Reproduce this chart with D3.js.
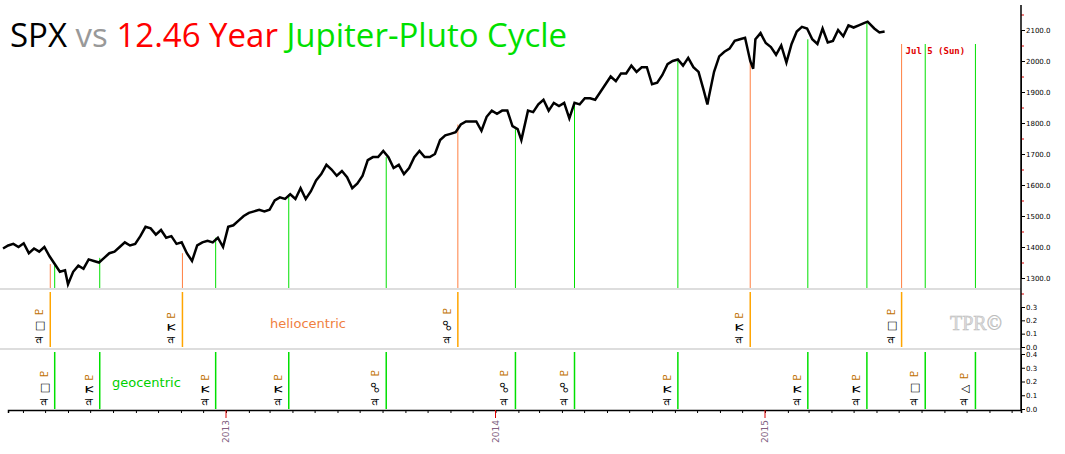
<!DOCTYPE html>
<html><head><meta charset="utf-8">
<script src="https://cdn.jsdelivr.net/npm/d3@7"></script>
<style>body{margin:0;background:#fff}</style>
</head><body>
<svg id="svg" width="1065" height="454"></svg>
<script>
// SPX closes (weekly-ish estimate)
var priceDates = ["2012-03-05","2012-03-12","2012-03-19","2012-03-26","2012-04-02","2012-04-09","2012-04-16","2012-04-23","2012-04-30","2012-05-07","2012-05-14","2012-05-21","2012-05-28","2012-06-01","2012-06-08","2012-06-15","2012-06-22","2012-06-29","2012-07-06","2012-07-13","2012-07-20","2012-07-27","2012-08-03","2012-08-10","2012-08-17","2012-08-24","2012-08-31","2012-09-07","2012-09-14","2012-09-21","2012-09-28","2012-10-05","2012-10-12","2012-10-19","2012-10-26","2012-11-02","2012-11-09","2012-11-16","2012-11-23","2012-11-30","2012-12-07","2012-12-14","2012-12-21","2012-12-28",
"2013-01-04","2013-01-11","2013-01-18","2013-01-25","2013-02-01","2013-02-08","2013-02-15","2013-02-22","2013-03-01","2013-03-08","2013-03-15","2013-03-22","2013-03-29","2013-04-05","2013-04-12","2013-04-19","2013-04-26","2013-05-03","2013-05-10","2013-05-17","2013-05-24","2013-05-31","2013-06-07","2013-06-14","2013-06-21","2013-06-28","2013-07-05","2013-07-12","2013-07-19","2013-07-26","2013-08-02","2013-08-09","2013-08-16","2013-08-23","2013-08-30","2013-09-06","2013-09-13","2013-09-20","2013-09-27","2013-10-04","2013-10-11","2013-10-18","2013-10-25","2013-11-01","2013-11-08","2013-11-15","2013-11-22","2013-11-29","2013-12-06","2013-12-13","2013-12-20","2013-12-27",
"2014-01-03","2014-01-10","2014-01-17","2014-01-24","2014-01-31","2014-02-05","2014-02-14","2014-02-21","2014-02-28","2014-03-07","2014-03-14","2014-03-21","2014-03-28","2014-04-04","2014-04-11","2014-04-18","2014-04-25","2014-05-02","2014-05-09","2014-05-16","2014-05-23","2014-05-30","2014-06-06","2014-06-13","2014-06-20","2014-06-27","2014-07-04","2014-07-11","2014-07-18","2014-07-25","2014-08-01","2014-08-08","2014-08-15","2014-08-22","2014-08-29","2014-09-05","2014-09-12","2014-09-19","2014-09-26","2014-10-03","2014-10-10","2014-10-15","2014-10-17","2014-10-24","2014-10-31","2014-11-07","2014-11-14","2014-11-21","2014-11-28","2014-12-05","2014-12-12","2014-12-16","2014-12-19","2014-12-26",
"2015-01-02","2015-01-09","2015-01-16","2015-01-23","2015-01-30","2015-02-06","2015-02-13","2015-02-20","2015-02-27","2015-03-06","2015-03-13","2015-03-20","2015-03-27","2015-04-03","2015-04-10","2015-04-17","2015-04-24","2015-05-01","2015-05-08","2015-05-15","2015-05-20","2015-05-29","2015-06-05","2015-06-12"];
var priceValues = [1395,1405,1410,1400,1412,1380,1395,1385,1400,1370,1345,1320,1325,1280,1320,1340,1330,1360,1355,1350,1365,1380,1385,1400,1415,1405,1410,1435,1465,1460,1440,1455,1430,1435,1410,1415,1380,1355,1405,1415,1420,1415,1430,1400,
1465,1470,1485,1500,1510,1515,1520,1515,1520,1550,1560,1555,1570,1555,1590,1555,1580,1615,1635,1665,1650,1630,1645,1625,1590,1605,1630,1680,1690,1690,1710,1690,1655,1665,1635,1655,1690,1710,1690,1690,1700,1745,1760,1765,1770,1795,1805,1805,1805,1775,1820,1840,
1830,1840,1840,1790,1780,1745,1840,1835,1860,1875,1840,1865,1855,1865,1815,1865,1860,1880,1880,1875,1900,1925,1950,1935,1960,1960,1985,1965,1980,1980,1925,1930,1955,1990,2000,2005,1985,2010,1980,1965,1905,1860,1885,1965,2015,2030,2040,2065,2070,2075,2000,1975,2070,2090,
2058,2045,2020,2050,1995,2055,2095,2110,2105,2070,2055,2105,2060,2065,2100,2080,2115,2108,2115,2122,2127,2105,2092,2095];

// Jupiter-Pluto aspects
var helioDates = ["2012-05-08","2012-11-03","2013-11-11","2014-12-12","2015-07-05"];
var helioAspects = ["□","⚻","☍","⚻","□"];
var geoDates = ["2012-05-14","2012-07-14","2012-12-18","2013-03-27","2013-08-06","2014-01-28","2014-04-18","2014-09-05","2015-02-28","2015-05-19","2015-08-06","2015-10-13"];
var geoAspects = ["□","⚻","⚻","⚻","☍","☍","☍","⚻","⚻","⚻","□","△"];

var priceTicks = [1300,1400,1500,1600,1700,1800,1900,2000,2100];
var subTicksHelio = [0.0,0.1,0.2,0.3];
var subTicksGeo = [0.0,0.1,0.2,0.3,0.4];

var parse = d3.timeParse("%Y-%m-%d");
var prices = priceDates.map(function(d, i) { return {date: parse(d), value: priceValues[i]} });

var svg = d3.select("#svg");
var left = 8, right = 1021;
var x = d3.scaleTime()
    .domain([parse("2013-01-01"), parse("2015-01-01")])
    .range([226, 765]);
var y = d3.scaleLinear().domain([1300, 2100]).range([278, 30]);
var mainBottom = 288;
var yH = d3.scaleLinear().domain([0, 0.3]).range([347, 307]);
var yG = d3.scaleLinear().domain([0, 0.4]).range([409, 354]);

var orangeMain = "#ff7f40", green = "#00e000", helioOrange = "#ffa500";
var bisect = d3.bisector(function(d) { return d.date }).left;
var lastDate = prices[prices.length - 1].date;

function topFor(date) {
    if (date > lastDate) return 44;
    var i = Math.min(bisect(prices, date), prices.length - 1);
    return y(prices[i].value);
}

// panel separators
svg.append("line").attr("x1", 0).attr("x2", right).attr("y1", 289).attr("y2", 289).attr("stroke", "#bbb")
svg.append("line").attr("x1", 0).attr("x2", right).attr("y1", 349).attr("y2", 349).attr("stroke", "#bbb")

// cycle lines in main panel
helioDates.forEach(function(d) {
    var t = parse(d);
    svg.append("line").attr("x1", x(t)).attr("x2", x(t)).attr("y1", mainBottom).attr("y2", topFor(t))
        .attr("stroke", orangeMain).attr("stroke-width", 1)
})
geoDates.forEach(function(d) {
    var t = parse(d);
    svg.append("line").attr("x1", x(t)).attr("x2", x(t)).attr("y1", mainBottom).attr("y2", topFor(t))
        .attr("stroke", green).attr("stroke-width", 1)
})

// price line
svg.append("path").datum(prices)
    .attr("d", d3.line().x(function(d) { return x(d.date) }).y(function(d) { return y(d.value) }))
    .attr("fill", "none").attr("stroke", "#000").attr("stroke-width", 2.5)

svg.append("text").attr("x", x(parse("2015-07-05")) + 4).attr("y", 54)
    .attr("fill", "#e00000").attr("font-family", "DejaVu Sans Mono").attr("font-size", 9).attr("font-weight", "bold")
    .text("Jul 5 (Sun)")

// aspect panels
function drawPanel(dates, aspects, y0, y1, col, width) {
    dates.forEach(function(d, i) {
        var px = x(parse(d));
        svg.append("line").attr("x1", px).attr("x2", px).attr("y1", y0).attr("y2", y1)
            .attr("stroke", col).attr("stroke-width", width)
        var g = svg.append("text")
            .attr("transform", "translate(" + (px - 7) + "," + (y1 - 2) + ") rotate(-90)")
            .attr("font-family", "DejaVu Sans").attr("font-size", 11).attr("font-weight", "bold").attr("fill", "#000")
        g.append("tspan").text("♃ ")
        g.append("tspan").text(aspects[i] + " ")
        g.append("tspan").attr("fill", "#c07000").text("♇")
    })
}
drawPanel(helioDates, helioAspects, 292, 347, helioOrange, 1.5)
drawPanel(geoDates, geoAspects, 352, 409, green, 1.5)

svg.append("text").attr("x", 270).attr("y", 328).attr("fill", "#f08040")
    .attr("font-family", "DejaVu Sans").attr("font-size", 13).text("heliocentric")
svg.append("text").attr("x", 112).attr("y", 387).attr("fill", "#00d000")
    .attr("font-family", "DejaVu Sans").attr("font-size", 13).text("geocentric")
svg.append("text").attr("x", 950).attr("y", 330).attr("fill", "#ddd").attr("stroke", "#bbb").attr("stroke-width", 0.5)
    .attr("font-family", "Liberation Serif").attr("font-size", 20).text("TPR©")

// right axes
var fmt = d3.format(".1f");
svg.append("g").attr("transform", "translate(" + right + ",0)")
    .call(d3.axisRight(y).tickValues(priceTicks).tickSize(4).tickFormat(fmt))
svg.append("g").attr("transform", "translate(" + right + ",0)")
    .call(d3.axisRight(y).tickValues(d3.range(1250, 2200, 100)).tickSize(3).tickFormat(""))
    .call(function(g) { g.selectAll(".tick line").attr("stroke", "#d00") })
svg.append("g").attr("transform", "translate(" + right + ",0)")
    .call(d3.axisRight(yH).tickValues(subTicksHelio).tickSize(4).tickFormat(fmt))
svg.append("g").attr("transform", "translate(" + right + ",0)")
    .call(d3.axisRight(yG).tickValues(subTicksGeo).tickSize(4).tickFormat(fmt))
svg.selectAll(".tick text").attr("font-size", 7).attr("font-family", "DejaVu Sans").attr("x", 5)
svg.append("line").attr("x1", right).attr("x2", right).attr("y1", 5).attr("y2", 410).attr("stroke", "#000").attr("stroke-width", 1.5)

// time axis
var xa = svg.append("g").attr("transform", "translate(0,410)")
    .call(d3.axisBottom(x.copy().domain([x.invert(left), x.invert(right)]).range([left, right]))
        .ticks(d3.timeMonth.every(1)).tickSize(3).tickFormat(""))
xa.select(".domain").attr("stroke-width", 1.5)
var years = [parse("2013-01-01"), parse("2014-01-01"), parse("2015-01-01")];
years.forEach(function(t) {
    svg.append("line").attr("x1", x(t)).attr("x2", x(t)).attr("y1", 410).attr("y2", 418).attr("stroke", "#d00")
    svg.append("text").attr("transform", "translate(" + (x(t) + 3) + ",443) rotate(-90)")
        .attr("font-family", "DejaVu Sans").attr("font-size", 9).attr("fill", "#806080").text(d3.timeFormat("%Y")(t))
})

// title
var title = svg.append("text").attr("x", 10).attr("y", 47)
    .attr("font-family", "Open Sans").attr("font-size", 33)
title.append("tspan").attr("fill", "#000").text("SPX ")
title.append("tspan").attr("fill", "#999").text("vs ")
title.append("tspan").attr("fill", "#f00").text("12.46 Year ")
title.append("tspan").attr("fill", "#00e000").text("Jupiter-Pluto Cycle")
</script>
</body></html>
